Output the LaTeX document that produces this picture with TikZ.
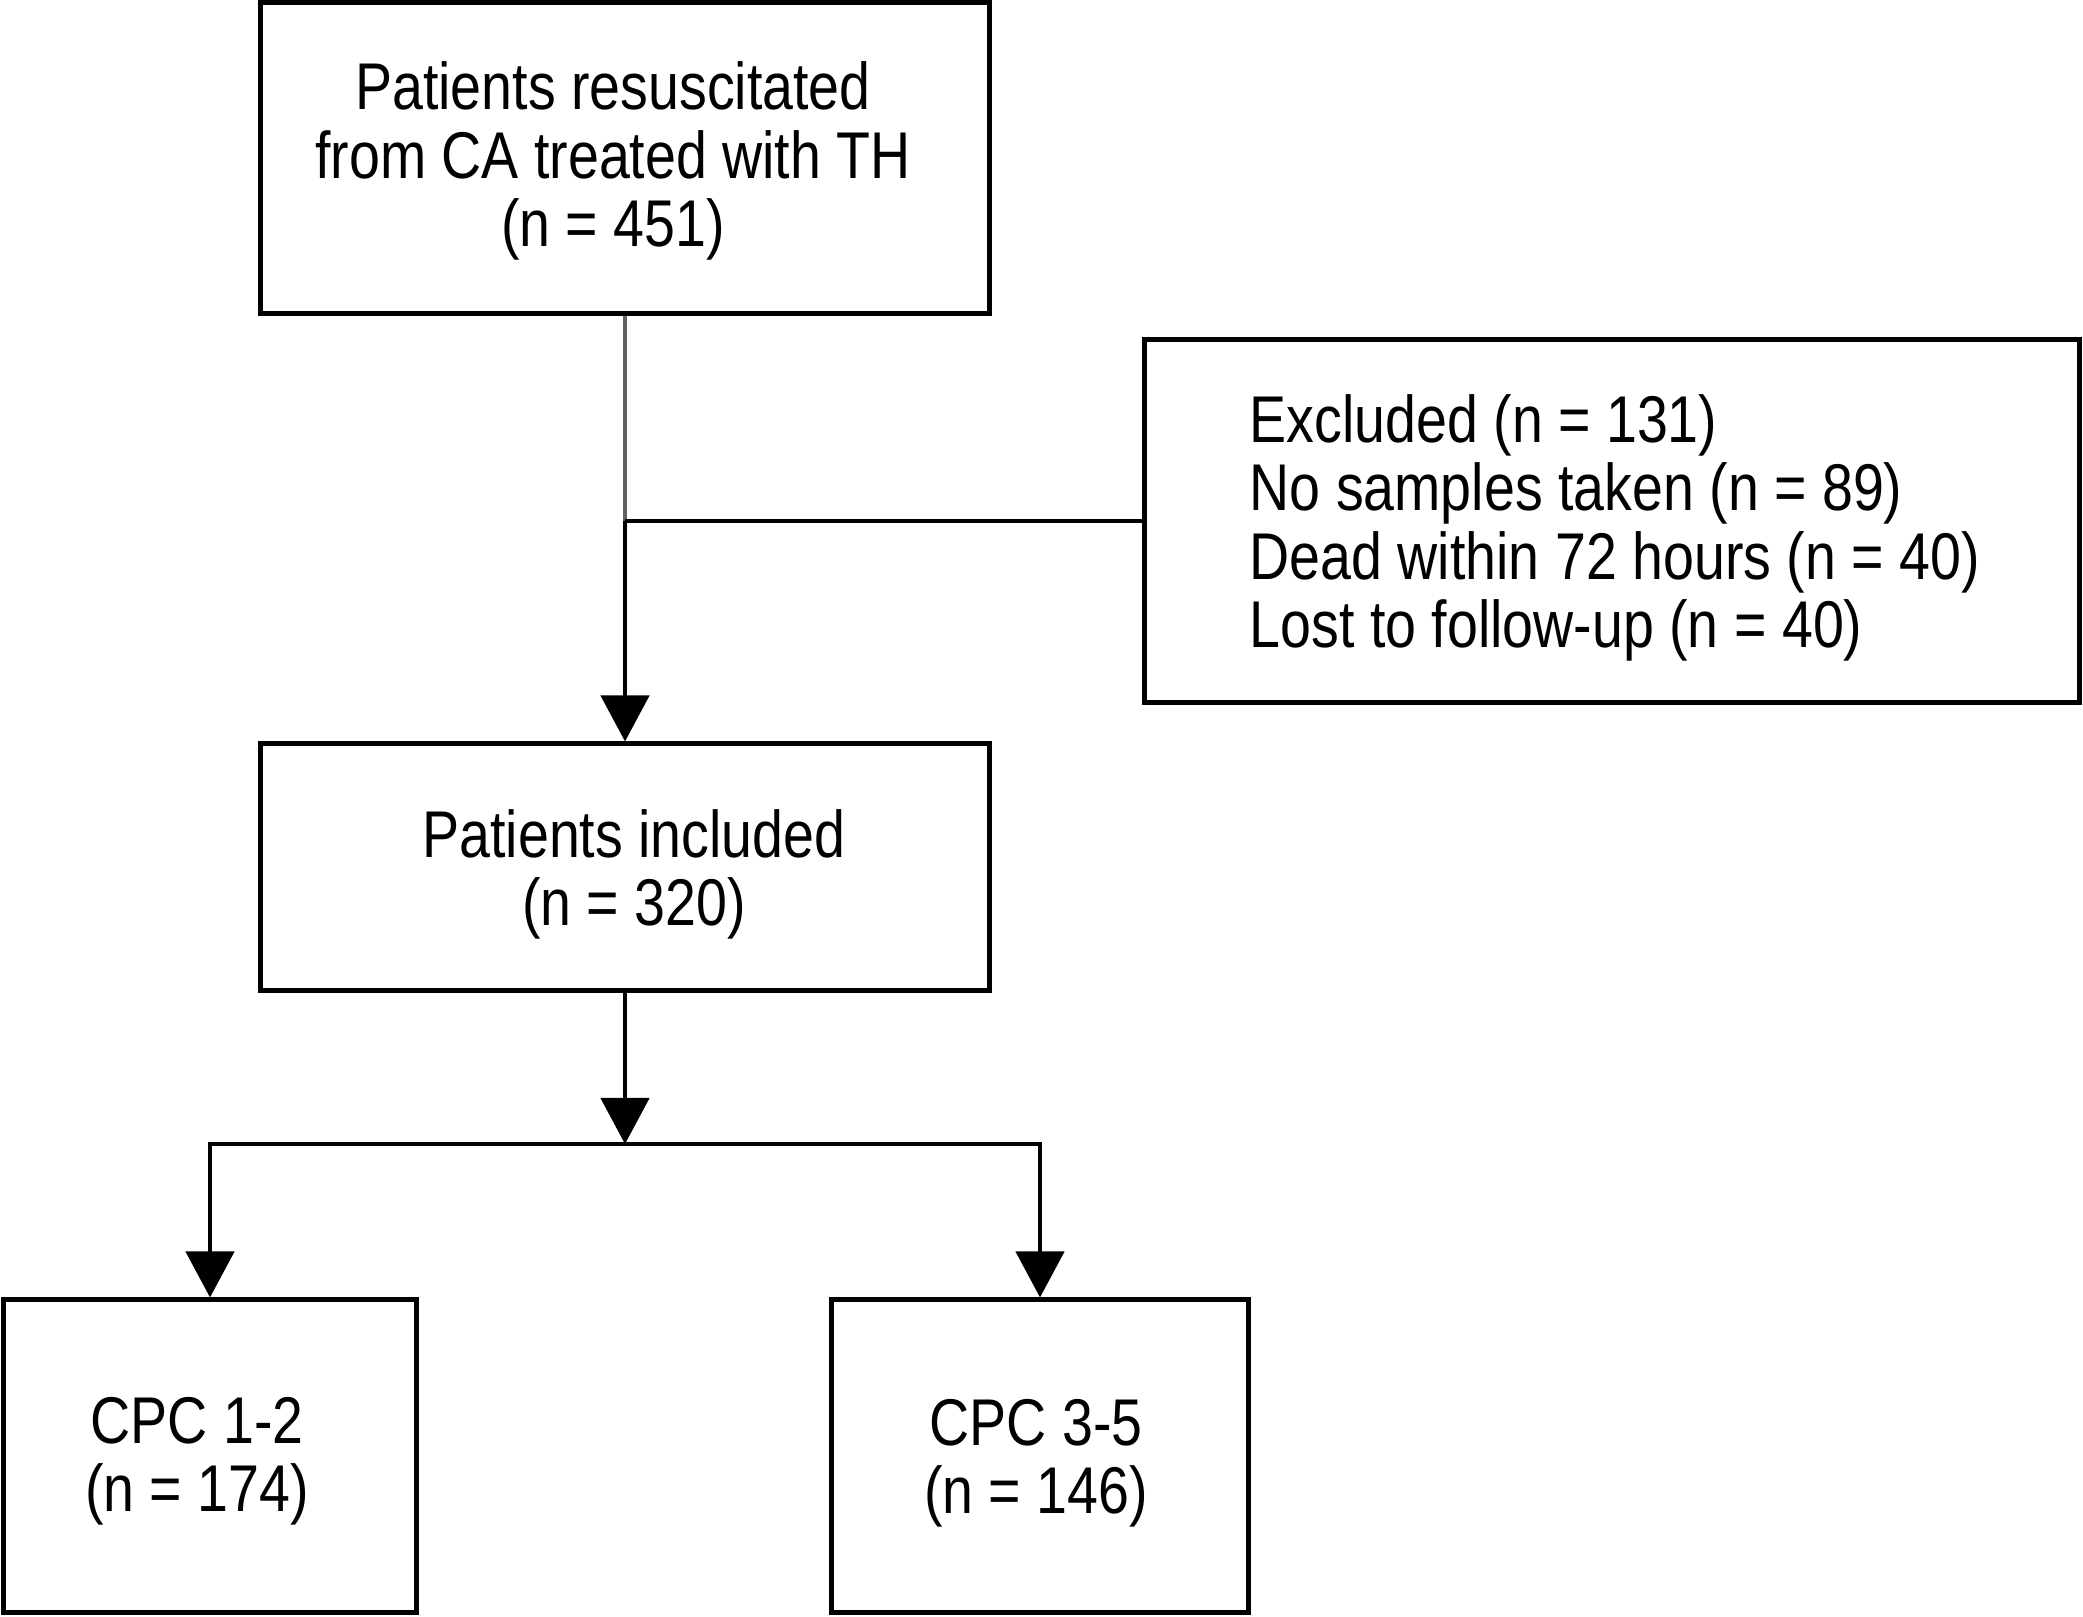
\documentclass[tikz,border=0pt]{standalone}
\usepackage{fontspec}
\setmainfont{Liberation Sans}[FakeStretch=0.84]
\usetikzlibrary{arrows.meta}
\begin{document}
\begin{tikzpicture}[x=0.01cm,y=-0.01cm,
  boxnode/.style={draw=black, line width=1.4pt, inner sep=0pt},
  txt/.style={font=\fontsize{18.8pt}{19.4pt}\selectfont, align=center, inner sep=0pt},
  conn/.style={draw=black, line width=1.3pt},
  arr/.style={conn, -{Triangle[width=0.48cm,length=0.46cm]}},
  greyconn/.style={draw=black!62, line width=1.4pt}]
\useasboundingbox (0,0) rectangle (2083,1616);
% boxes
\node[boxnode, minimum width=7.28cm, minimum height=3.10cm] (top) at (625,158) {};
\node[boxnode, minimum width=9.35cm, minimum height=3.63cm] (excl) at (1612,521) {};
\node[boxnode, minimum width=7.28cm, minimum height=2.46cm] (mid) at (625,867) {};
\node[boxnode, minimum width=4.13cm, minimum height=3.12cm] (cpcA) at (210,1456) {};
\node[boxnode, minimum width=4.16cm, minimum height=3.12cm] (cpcB) at (1040,1456) {};
% texts
\node[txt] (topT) at (613,161) {Patients resuscitated\\from CA treated with TH\\(n = 451)};
\node[txt, align=left, anchor=west] (exclT) at (1249,528) {Excluded (n = 131)\\No samples taken (n = 89)\\Dead within 72 hours (n = 40)\\Lost to follow-up (n = 40)};
\node[txt] (midT) at (634,874) {Patients included\\(n = 320)};
\node[txt] (cpcAT) at (197,1461) {CPC 1-2\\(n = 174)};
\node[txt] (cpcBT) at (1036,1463) {CPC 3-5\\(n = 146)};
% connectors
\coordinate (j1) at (top.south |- excl.west);
\coordinate (j2) at (625,1144);
\draw[greyconn] (top.south) -- (j1);
\draw[conn] (j1) -- (excl.west);
\draw[arr] (j1) -- (mid.north);
\draw[arr] (mid.south) -- (j2);
\draw[arr] (j2) -| (cpcA.north);
\draw[arr] (j2) -| (cpcB.north);
\end{tikzpicture}
\end{document}
